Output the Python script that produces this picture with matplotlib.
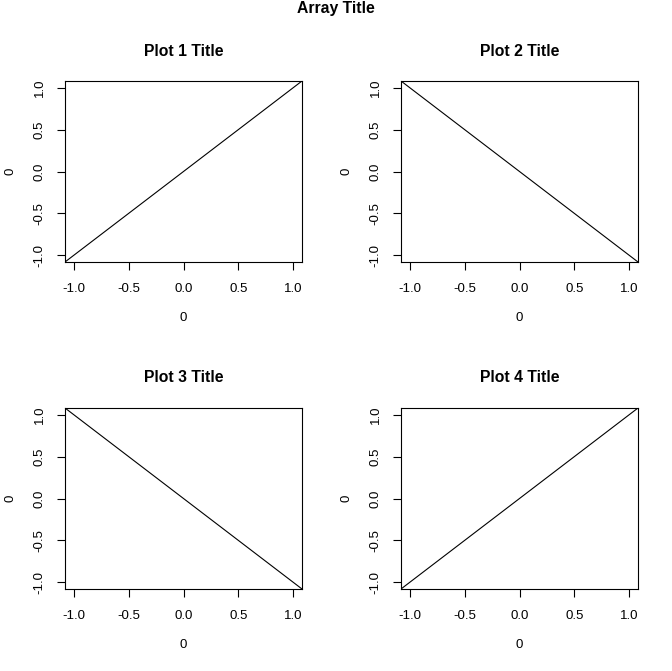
import matplotlib
matplotlib.use("Agg")
import matplotlib.pyplot as plt

plt.rcParams['font.family'] = ['Liberation Sans', 'DejaVu Sans']
plt.rcParams['axes.unicode_minus'] = False

# data
titles = ['Plot 1 Title', 'Plot 2 Title', 'Plot 3 Title', 'Plot 4 Title']
slopes = [1, -1, -1, 1]
tick_vals = [-1.0, -0.5, 0.0, 0.5, 1.0]
tick_labels = ['-1.0', '-0.5', '0.0', '0.5', '1.0']
lim = 1.08

fig = plt.figure(figsize=(6.72, 6.71), dpi=100)
W, H = 672, 671

# box positions in pixels (left, top, right, bottom)
boxes = [(65, 81, 302, 262), (401, 81, 638, 262),
         (65, 408, 302, 589), (401, 408, 638, 589)]

for i, (l, t, r, b) in enumerate(boxes):
    ax = fig.add_axes([l / W, 1 - b / H, (r - l) / W, (b - t) / H])
    ax.axline((0, 0), slope=slopes[i], color='black', lw=0.8)
    ax.set_xlim(-lim, lim)
    ax.set_ylim(-lim, lim)
    ax.set_xticks(tick_vals)
    ax.set_xticklabels(tick_labels)
    ax.set_yticks(tick_vals)
    ax.set_yticklabels(tick_labels, rotation=90, va='center')
    ax.tick_params(length=6, width=0.8, labelsize=9.5)
    ax.tick_params(axis='x', pad=9)
    ax.tick_params(axis='y', pad=8)
    for s in ax.spines.values():
        s.set_linewidth(0.8)
    bh = b - t
    bw = r - l
    # titles / labels placed in pixel offsets from the box
    ax.text(0.5, 1 + 30 / bh, titles[i], transform=ax.transAxes,
            fontsize=11.3, fontweight='bold', ha='center', va='center')
    ax.set_xlabel('0', fontsize=9.5)
    ax.xaxis.label.set_va('center')
    ax.xaxis.set_label_coords(0.5, -56 / bh)
    ax.set_ylabel('0', fontsize=9.5)
    ax.yaxis.label.set_va('center')
    ax.yaxis.label.set_ha('center')
    ax.yaxis.set_label_coords(-55 / bw, 0.5)

fig.text(0.5, 1 - 9 / H, 'Array Title', fontsize=11.3, fontweight='bold',
         ha='center', va='center')

fig.savefig('out.png', dpi=100)
